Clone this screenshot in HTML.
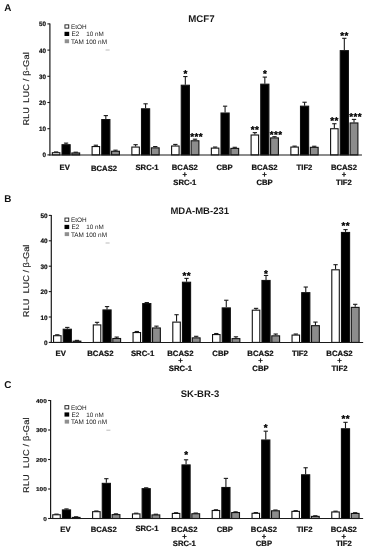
<!DOCTYPE html>
<html><head><meta charset="utf-8"><title>Figure</title>
<style>html,body{margin:0;padding:0;background:#fff;}svg{display:block;filter:blur(0.35px)}</style>
</head><body>
<svg width="365" height="550" viewBox="0 0 365 550" text-rendering="geometricPrecision" font-family='"Liberation Sans", Arial, sans-serif'>
<g>
<line x1="56.10" y1="151.94" x2="56.10" y2="152.15" stroke="#1a1a1a" stroke-width="1.1"/>
<line x1="53.95" y1="151.94" x2="58.25" y2="151.94" stroke="#1a1a1a" stroke-width="1.1"/>
<rect x="52.35" y="152.70" width="7.50" height="2.20" fill="#fff" stroke="#111" stroke-width="1.1"/>
<line x1="66.07" y1="143.11" x2="66.07" y2="144.16" stroke="#1a1a1a" stroke-width="1.1"/>
<line x1="63.92" y1="143.11" x2="68.22" y2="143.11" stroke="#1a1a1a" stroke-width="1.1"/>
<rect x="62.00" y="144.71" width="8.15" height="10.19" fill="#000" stroke="#111" stroke-width="1.1"/>
<line x1="75.75" y1="152.20" x2="75.75" y2="152.41" stroke="#1a1a1a" stroke-width="1.1"/>
<line x1="73.60" y1="152.20" x2="77.90" y2="152.20" stroke="#1a1a1a" stroke-width="1.1"/>
<rect x="71.85" y="152.96" width="7.80" height="1.94" fill="#8c8c8c" stroke="#111" stroke-width="1.1"/>
<line x1="95.85" y1="145.21" x2="95.85" y2="145.99" stroke="#1a1a1a" stroke-width="1.1"/>
<line x1="93.70" y1="145.21" x2="98.00" y2="145.21" stroke="#1a1a1a" stroke-width="1.1"/>
<rect x="92.10" y="146.54" width="7.50" height="8.36" fill="#fff" stroke="#111" stroke-width="1.1"/>
<line x1="105.82" y1="115.60" x2="105.82" y2="119.01" stroke="#1a1a1a" stroke-width="1.1"/>
<line x1="103.67" y1="115.60" x2="107.97" y2="115.60" stroke="#1a1a1a" stroke-width="1.1"/>
<rect x="101.75" y="119.56" width="8.15" height="35.34" fill="#000" stroke="#111" stroke-width="1.1"/>
<line x1="115.50" y1="150.18" x2="115.50" y2="150.71" stroke="#1a1a1a" stroke-width="1.1"/>
<line x1="113.35" y1="150.18" x2="117.65" y2="150.18" stroke="#1a1a1a" stroke-width="1.1"/>
<rect x="111.60" y="151.26" width="7.80" height="3.64" fill="#8c8c8c" stroke="#111" stroke-width="1.1"/>
<line x1="135.60" y1="144.68" x2="135.60" y2="146.52" stroke="#1a1a1a" stroke-width="1.1"/>
<line x1="133.45" y1="144.68" x2="137.75" y2="144.68" stroke="#1a1a1a" stroke-width="1.1"/>
<rect x="131.85" y="147.07" width="7.50" height="7.83" fill="#fff" stroke="#111" stroke-width="1.1"/>
<line x1="145.58" y1="103.81" x2="145.58" y2="108.26" stroke="#1a1a1a" stroke-width="1.1"/>
<line x1="143.43" y1="103.81" x2="147.73" y2="103.81" stroke="#1a1a1a" stroke-width="1.1"/>
<rect x="141.50" y="108.81" width="8.15" height="46.09" fill="#000" stroke="#111" stroke-width="1.1"/>
<line x1="155.25" y1="146.52" x2="155.25" y2="147.30" stroke="#1a1a1a" stroke-width="1.1"/>
<line x1="153.10" y1="146.52" x2="157.40" y2="146.52" stroke="#1a1a1a" stroke-width="1.1"/>
<rect x="151.35" y="147.85" width="7.80" height="7.05" fill="#8c8c8c" stroke="#111" stroke-width="1.1"/>
<line x1="175.35" y1="144.42" x2="175.35" y2="145.47" stroke="#1a1a1a" stroke-width="1.1"/>
<line x1="173.20" y1="144.42" x2="177.50" y2="144.42" stroke="#1a1a1a" stroke-width="1.1"/>
<rect x="171.60" y="146.02" width="7.50" height="8.88" fill="#fff" stroke="#111" stroke-width="1.1"/>
<line x1="185.33" y1="76.56" x2="185.33" y2="84.68" stroke="#1a1a1a" stroke-width="1.1"/>
<line x1="183.18" y1="76.56" x2="187.48" y2="76.56" stroke="#1a1a1a" stroke-width="1.1"/>
<rect x="181.25" y="85.23" width="8.15" height="69.67" fill="#000" stroke="#111" stroke-width="1.1"/>
<line x1="195.00" y1="139.18" x2="195.00" y2="140.23" stroke="#1a1a1a" stroke-width="1.1"/>
<line x1="192.85" y1="139.18" x2="197.15" y2="139.18" stroke="#1a1a1a" stroke-width="1.1"/>
<rect x="191.10" y="140.78" width="7.80" height="14.12" fill="#8c8c8c" stroke="#111" stroke-width="1.1"/>
<line x1="215.10" y1="147.04" x2="215.10" y2="147.56" stroke="#1a1a1a" stroke-width="1.1"/>
<line x1="212.95" y1="147.04" x2="217.25" y2="147.04" stroke="#1a1a1a" stroke-width="1.1"/>
<rect x="211.35" y="148.11" width="7.50" height="6.79" fill="#fff" stroke="#111" stroke-width="1.1"/>
<line x1="225.08" y1="106.17" x2="225.08" y2="112.46" stroke="#1a1a1a" stroke-width="1.1"/>
<line x1="222.93" y1="106.17" x2="227.23" y2="106.17" stroke="#1a1a1a" stroke-width="1.1"/>
<rect x="221.00" y="113.01" width="8.15" height="41.89" fill="#000" stroke="#111" stroke-width="1.1"/>
<line x1="234.75" y1="147.30" x2="234.75" y2="147.83" stroke="#1a1a1a" stroke-width="1.1"/>
<line x1="232.60" y1="147.30" x2="236.90" y2="147.30" stroke="#1a1a1a" stroke-width="1.1"/>
<rect x="230.85" y="148.38" width="7.80" height="6.52" fill="#8c8c8c" stroke="#111" stroke-width="1.1"/>
<line x1="254.85" y1="132.63" x2="254.85" y2="134.46" stroke="#1a1a1a" stroke-width="1.1"/>
<line x1="252.70" y1="132.63" x2="257.00" y2="132.63" stroke="#1a1a1a" stroke-width="1.1"/>
<rect x="251.10" y="135.01" width="7.50" height="19.89" fill="#fff" stroke="#111" stroke-width="1.1"/>
<line x1="264.82" y1="77.09" x2="264.82" y2="83.64" stroke="#1a1a1a" stroke-width="1.1"/>
<line x1="262.68" y1="77.09" x2="266.97" y2="77.09" stroke="#1a1a1a" stroke-width="1.1"/>
<rect x="260.75" y="84.19" width="8.15" height="70.71" fill="#000" stroke="#111" stroke-width="1.1"/>
<line x1="274.50" y1="136.69" x2="274.50" y2="137.35" stroke="#1a1a1a" stroke-width="1.1"/>
<line x1="272.35" y1="136.69" x2="276.65" y2="136.69" stroke="#1a1a1a" stroke-width="1.1"/>
<rect x="270.60" y="137.90" width="7.80" height="17.00" fill="#8c8c8c" stroke="#111" stroke-width="1.1"/>
<line x1="294.60" y1="146.12" x2="294.60" y2="146.52" stroke="#1a1a1a" stroke-width="1.1"/>
<line x1="292.45" y1="146.12" x2="296.75" y2="146.12" stroke="#1a1a1a" stroke-width="1.1"/>
<rect x="290.85" y="147.07" width="7.50" height="7.83" fill="#fff" stroke="#111" stroke-width="1.1"/>
<line x1="304.57" y1="102.24" x2="304.57" y2="105.64" stroke="#1a1a1a" stroke-width="1.1"/>
<line x1="302.43" y1="102.24" x2="306.72" y2="102.24" stroke="#1a1a1a" stroke-width="1.1"/>
<rect x="300.50" y="106.19" width="8.15" height="48.71" fill="#000" stroke="#111" stroke-width="1.1"/>
<line x1="314.25" y1="146.25" x2="314.25" y2="146.78" stroke="#1a1a1a" stroke-width="1.1"/>
<line x1="312.10" y1="146.25" x2="316.40" y2="146.25" stroke="#1a1a1a" stroke-width="1.1"/>
<rect x="310.35" y="147.33" width="7.80" height="7.57" fill="#8c8c8c" stroke="#111" stroke-width="1.1"/>
<line x1="334.35" y1="123.72" x2="334.35" y2="128.18" stroke="#1a1a1a" stroke-width="1.1"/>
<line x1="332.20" y1="123.72" x2="336.50" y2="123.72" stroke="#1a1a1a" stroke-width="1.1"/>
<rect x="330.60" y="128.73" width="7.50" height="26.17" fill="#fff" stroke="#111" stroke-width="1.1"/>
<line x1="344.32" y1="38.31" x2="344.32" y2="50.10" stroke="#1a1a1a" stroke-width="1.1"/>
<line x1="342.18" y1="38.31" x2="346.47" y2="38.31" stroke="#1a1a1a" stroke-width="1.1"/>
<rect x="340.25" y="50.65" width="8.15" height="104.25" fill="#000" stroke="#111" stroke-width="1.1"/>
<line x1="354.00" y1="119.40" x2="354.00" y2="122.41" stroke="#1a1a1a" stroke-width="1.1"/>
<line x1="351.85" y1="119.40" x2="356.15" y2="119.40" stroke="#1a1a1a" stroke-width="1.1"/>
<rect x="350.10" y="122.96" width="7.80" height="31.94" fill="#8c8c8c" stroke="#111" stroke-width="1.1"/>
<line x1="49.9" y1="23.40" x2="49.9" y2="155.50" stroke="#1a1a1a" stroke-width="1.2"/>
<line x1="49.4" y1="154.9" x2="361.95" y2="154.9" stroke="#1a1a1a" stroke-width="1.05"/>
<line x1="47.40" y1="154.90" x2="49.9" y2="154.90" stroke="#1a1a1a" stroke-width="1.1"/>
<text transform="translate(46.10,155.20) scale(1,1)" y="2.27" text-anchor="end" font-size="6.3" font-weight="bold" fill="#111" stroke="#111" stroke-width="0.2">0</text>
<line x1="47.40" y1="128.70" x2="49.9" y2="128.70" stroke="#1a1a1a" stroke-width="1.1"/>
<text transform="translate(46.10,129.00) scale(1,1)" y="2.27" text-anchor="end" font-size="6.3" font-weight="bold" fill="#111" stroke="#111" stroke-width="0.2">10</text>
<line x1="47.40" y1="102.50" x2="49.9" y2="102.50" stroke="#1a1a1a" stroke-width="1.1"/>
<text transform="translate(46.10,102.80) scale(1,1)" y="2.27" text-anchor="end" font-size="6.3" font-weight="bold" fill="#111" stroke="#111" stroke-width="0.2">20</text>
<line x1="47.40" y1="76.30" x2="49.9" y2="76.30" stroke="#1a1a1a" stroke-width="1.1"/>
<text transform="translate(46.10,76.60) scale(1,1)" y="2.27" text-anchor="end" font-size="6.3" font-weight="bold" fill="#111" stroke="#111" stroke-width="0.2">30</text>
<line x1="47.40" y1="50.10" x2="49.9" y2="50.10" stroke="#1a1a1a" stroke-width="1.1"/>
<text transform="translate(46.10,50.40) scale(1,1)" y="2.27" text-anchor="end" font-size="6.3" font-weight="bold" fill="#111" stroke="#111" stroke-width="0.2">40</text>
<line x1="47.40" y1="23.90" x2="49.9" y2="23.90" stroke="#1a1a1a" stroke-width="1.1"/>
<text transform="translate(46.10,24.20) scale(1,1)" y="2.27" text-anchor="end" font-size="6.3" font-weight="bold" fill="#111" stroke="#111" stroke-width="0.2">50</text>
<text x="185.58" y="76.80" text-anchor="middle" letter-spacing="0.5" font-size="9.8" font-weight="bold" fill="#000" stroke="#000" stroke-width="0.3">*</text>
<text x="196.65" y="139.80" text-anchor="middle" letter-spacing="0.5" font-size="9.8" font-weight="bold" fill="#000" stroke="#000" stroke-width="0.3">***</text>
<text x="255.10" y="132.60" text-anchor="middle" letter-spacing="0.5" font-size="9.8" font-weight="bold" fill="#000" stroke="#000" stroke-width="0.3">**</text>
<text x="265.07" y="77.40" text-anchor="middle" letter-spacing="0.5" font-size="9.8" font-weight="bold" fill="#000" stroke="#000" stroke-width="0.3">*</text>
<text x="276.15" y="137.85" text-anchor="middle" letter-spacing="0.5" font-size="9.8" font-weight="bold" fill="#000" stroke="#000" stroke-width="0.3">***</text>
<text x="334.60" y="124.20" text-anchor="middle" letter-spacing="0.5" font-size="9.8" font-weight="bold" fill="#000" stroke="#000" stroke-width="0.3">**</text>
<text x="344.57" y="39.40" text-anchor="middle" letter-spacing="0.5" font-size="9.8" font-weight="bold" fill="#000" stroke="#000" stroke-width="0.3">**</text>
<text x="355.65" y="120.30" text-anchor="middle" letter-spacing="0.5" font-size="9.8" font-weight="bold" fill="#000" stroke="#000" stroke-width="0.3">***</text>
<text x="201.4" y="22" text-anchor="middle" font-size="9.7" font-weight="bold" fill="#1a1a1a">MCF7</text>
<text x="4.3" y="11.1" font-size="9.9" font-weight="bold" fill="#111">A</text>
<rect x="64.95" y="24.85" width="3.8" height="3.3" fill="#fff" stroke="#1a1a1a" stroke-width="0.9"/>
<text x="70.90" y="29.00" font-size="6.4" fill="#1a1a1a">EtOH</text>
<rect x="64.50" y="31.80" width="4.7" height="4.2" fill="#000"/>
<text x="71.50" y="36.40" font-size="6.4" fill="#1a1a1a">E2</text>
<text x="86.30" y="36.40" font-size="6.3" fill="#1a1a1a">10 nM</text>
<rect x="64.70" y="39.30" width="4.4" height="3.9" fill="#8f8f8f"/>
<text x="70.90" y="43.80" font-size="6.4" fill="#1a1a1a">TAM 100 nM</text>
<line x1="105.6" y1="50" x2="109.6" y2="50" stroke="#aaa" stroke-width="0.8"/>
<g transform="translate(29.2,125.6) rotate(-90) scale(1,0.9)" font-size="9.3" fill="#222" stroke="#222" stroke-width="0.15">
<text x="0" y="0">RLU</text>
<text x="22.7" y="0" letter-spacing="0.15">LUC / β-Gal</text>
</g>
<text x="64.70" y="170.20" text-anchor="middle" font-size="7.7" font-weight="bold" fill="#111" stroke="#111" stroke-width="0.22">EV</text>
<text x="104.05" y="170.50" text-anchor="middle" font-size="7.7" font-weight="bold" fill="#111" stroke="#111" stroke-width="0.22">BCAS2</text>
<text x="147.00" y="169.60" text-anchor="middle" font-size="7.7" font-weight="bold" fill="#111" stroke="#111" stroke-width="0.22">SRC-1</text>
<text x="184.85" y="169.60" text-anchor="middle" font-size="7.7" font-weight="bold" fill="#111" stroke="#111" stroke-width="0.22">BCAS2</text>
<text x="184.85" y="177.10" text-anchor="middle" font-size="7.7" font-weight="bold" fill="#111" stroke="#111" stroke-width="0.22">+</text>
<text x="184.85" y="184.60" text-anchor="middle" font-size="7.7" font-weight="bold" fill="#111" stroke="#111" stroke-width="0.22">SRC-1</text>
<text x="224.60" y="169.60" text-anchor="middle" font-size="7.7" font-weight="bold" fill="#111" stroke="#111" stroke-width="0.22">CBP</text>
<text x="264.55" y="169.60" text-anchor="middle" font-size="7.7" font-weight="bold" fill="#111" stroke="#111" stroke-width="0.22">BCAS2</text>
<text x="264.55" y="177.10" text-anchor="middle" font-size="7.7" font-weight="bold" fill="#111" stroke="#111" stroke-width="0.22">+</text>
<text x="264.55" y="184.60" text-anchor="middle" font-size="7.7" font-weight="bold" fill="#111" stroke="#111" stroke-width="0.22">CBP</text>
<text x="304.50" y="169.60" text-anchor="middle" font-size="7.7" font-weight="bold" fill="#111" stroke="#111" stroke-width="0.22">TIF2</text>
<text x="343.95" y="169.60" text-anchor="middle" font-size="7.7" font-weight="bold" fill="#111" stroke="#111" stroke-width="0.22">BCAS2</text>
<text x="343.95" y="177.10" text-anchor="middle" font-size="7.7" font-weight="bold" fill="#111" stroke="#111" stroke-width="0.22">+</text>
<text x="343.95" y="184.60" text-anchor="middle" font-size="7.7" font-weight="bold" fill="#111" stroke="#111" stroke-width="0.22">TIF2</text>
</g>
<g>
<line x1="57.30" y1="334.78" x2="57.30" y2="335.16" stroke="#1a1a1a" stroke-width="1.1"/>
<line x1="55.15" y1="334.78" x2="59.45" y2="334.78" stroke="#1a1a1a" stroke-width="1.1"/>
<rect x="53.55" y="335.71" width="7.50" height="6.69" fill="#fff" stroke="#111" stroke-width="1.1"/>
<line x1="67.28" y1="327.41" x2="67.28" y2="328.68" stroke="#1a1a1a" stroke-width="1.1"/>
<line x1="65.12" y1="327.41" x2="69.43" y2="327.41" stroke="#1a1a1a" stroke-width="1.1"/>
<rect x="63.20" y="329.23" width="8.15" height="13.17" fill="#000" stroke="#111" stroke-width="1.1"/>
<line x1="76.95" y1="340.37" x2="76.95" y2="340.62" stroke="#1a1a1a" stroke-width="1.1"/>
<line x1="74.80" y1="340.37" x2="79.10" y2="340.37" stroke="#1a1a1a" stroke-width="1.1"/>
<rect x="73.05" y="341.17" width="7.80" height="1.23" fill="#8c8c8c" stroke="#111" stroke-width="1.1"/>
<line x1="97.05" y1="322.33" x2="97.05" y2="324.37" stroke="#1a1a1a" stroke-width="1.1"/>
<line x1="94.90" y1="322.33" x2="99.20" y2="322.33" stroke="#1a1a1a" stroke-width="1.1"/>
<rect x="93.30" y="324.92" width="7.50" height="17.48" fill="#fff" stroke="#111" stroke-width="1.1"/>
<line x1="107.03" y1="306.59" x2="107.03" y2="309.38" stroke="#1a1a1a" stroke-width="1.1"/>
<line x1="104.88" y1="306.59" x2="109.18" y2="306.59" stroke="#1a1a1a" stroke-width="1.1"/>
<rect x="102.95" y="309.93" width="8.15" height="32.47" fill="#000" stroke="#111" stroke-width="1.1"/>
<line x1="116.70" y1="337.07" x2="116.70" y2="337.95" stroke="#1a1a1a" stroke-width="1.1"/>
<line x1="114.55" y1="337.07" x2="118.85" y2="337.07" stroke="#1a1a1a" stroke-width="1.1"/>
<rect x="112.80" y="338.50" width="7.80" height="3.89" fill="#8c8c8c" stroke="#111" stroke-width="1.1"/>
<line x1="136.80" y1="331.48" x2="136.80" y2="331.99" stroke="#1a1a1a" stroke-width="1.1"/>
<line x1="134.65" y1="331.48" x2="138.95" y2="331.48" stroke="#1a1a1a" stroke-width="1.1"/>
<rect x="133.05" y="332.54" width="7.50" height="9.86" fill="#fff" stroke="#111" stroke-width="1.1"/>
<line x1="146.78" y1="302.52" x2="146.78" y2="303.03" stroke="#1a1a1a" stroke-width="1.1"/>
<line x1="144.62" y1="302.52" x2="148.93" y2="302.52" stroke="#1a1a1a" stroke-width="1.1"/>
<rect x="142.70" y="303.58" width="8.15" height="38.82" fill="#000" stroke="#111" stroke-width="1.1"/>
<line x1="156.45" y1="326.14" x2="156.45" y2="327.41" stroke="#1a1a1a" stroke-width="1.1"/>
<line x1="154.30" y1="326.14" x2="158.60" y2="326.14" stroke="#1a1a1a" stroke-width="1.1"/>
<rect x="152.55" y="327.96" width="7.80" height="14.44" fill="#8c8c8c" stroke="#111" stroke-width="1.1"/>
<line x1="176.55" y1="314.71" x2="176.55" y2="321.57" stroke="#1a1a1a" stroke-width="1.1"/>
<line x1="174.40" y1="314.71" x2="178.70" y2="314.71" stroke="#1a1a1a" stroke-width="1.1"/>
<rect x="172.80" y="322.12" width="7.50" height="20.28" fill="#fff" stroke="#111" stroke-width="1.1"/>
<line x1="186.53" y1="278.39" x2="186.53" y2="281.69" stroke="#1a1a1a" stroke-width="1.1"/>
<line x1="184.38" y1="278.39" x2="188.68" y2="278.39" stroke="#1a1a1a" stroke-width="1.1"/>
<rect x="182.45" y="282.24" width="8.15" height="60.16" fill="#000" stroke="#111" stroke-width="1.1"/>
<line x1="196.20" y1="336.30" x2="196.20" y2="337.32" stroke="#1a1a1a" stroke-width="1.1"/>
<line x1="194.05" y1="336.30" x2="198.35" y2="336.30" stroke="#1a1a1a" stroke-width="1.1"/>
<rect x="192.30" y="337.87" width="7.80" height="4.53" fill="#8c8c8c" stroke="#111" stroke-width="1.1"/>
<line x1="216.30" y1="333.51" x2="216.30" y2="334.02" stroke="#1a1a1a" stroke-width="1.1"/>
<line x1="214.15" y1="333.51" x2="218.45" y2="333.51" stroke="#1a1a1a" stroke-width="1.1"/>
<rect x="212.55" y="334.57" width="7.50" height="7.83" fill="#fff" stroke="#111" stroke-width="1.1"/>
<line x1="226.28" y1="300.24" x2="226.28" y2="307.35" stroke="#1a1a1a" stroke-width="1.1"/>
<line x1="224.12" y1="300.24" x2="228.43" y2="300.24" stroke="#1a1a1a" stroke-width="1.1"/>
<rect x="222.20" y="307.90" width="8.15" height="34.50" fill="#000" stroke="#111" stroke-width="1.1"/>
<line x1="235.95" y1="336.81" x2="235.95" y2="338.08" stroke="#1a1a1a" stroke-width="1.1"/>
<line x1="233.80" y1="336.81" x2="238.10" y2="336.81" stroke="#1a1a1a" stroke-width="1.1"/>
<rect x="232.05" y="338.63" width="7.80" height="3.77" fill="#8c8c8c" stroke="#111" stroke-width="1.1"/>
<line x1="256.05" y1="308.36" x2="256.05" y2="309.63" stroke="#1a1a1a" stroke-width="1.1"/>
<line x1="253.90" y1="308.36" x2="258.20" y2="308.36" stroke="#1a1a1a" stroke-width="1.1"/>
<rect x="252.30" y="310.18" width="7.50" height="32.22" fill="#fff" stroke="#111" stroke-width="1.1"/>
<line x1="266.02" y1="275.47" x2="266.02" y2="279.92" stroke="#1a1a1a" stroke-width="1.1"/>
<line x1="263.88" y1="275.47" x2="268.17" y2="275.47" stroke="#1a1a1a" stroke-width="1.1"/>
<rect x="261.95" y="280.47" width="8.15" height="61.93" fill="#000" stroke="#111" stroke-width="1.1"/>
<line x1="275.70" y1="334.02" x2="275.70" y2="335.29" stroke="#1a1a1a" stroke-width="1.1"/>
<line x1="273.55" y1="334.02" x2="277.85" y2="334.02" stroke="#1a1a1a" stroke-width="1.1"/>
<rect x="271.80" y="335.84" width="7.80" height="6.56" fill="#8c8c8c" stroke="#111" stroke-width="1.1"/>
<line x1="295.80" y1="334.02" x2="295.80" y2="334.53" stroke="#1a1a1a" stroke-width="1.1"/>
<line x1="293.65" y1="334.02" x2="297.95" y2="334.02" stroke="#1a1a1a" stroke-width="1.1"/>
<rect x="292.05" y="335.08" width="7.50" height="7.32" fill="#fff" stroke="#111" stroke-width="1.1"/>
<line x1="305.77" y1="287.03" x2="305.77" y2="292.11" stroke="#1a1a1a" stroke-width="1.1"/>
<line x1="303.62" y1="287.03" x2="307.92" y2="287.03" stroke="#1a1a1a" stroke-width="1.1"/>
<rect x="301.70" y="292.66" width="8.15" height="49.74" fill="#000" stroke="#111" stroke-width="1.1"/>
<line x1="315.45" y1="322.08" x2="315.45" y2="325.13" stroke="#1a1a1a" stroke-width="1.1"/>
<line x1="313.30" y1="322.08" x2="317.60" y2="322.08" stroke="#1a1a1a" stroke-width="1.1"/>
<rect x="311.55" y="325.68" width="7.80" height="16.72" fill="#8c8c8c" stroke="#111" stroke-width="1.1"/>
<line x1="335.55" y1="264.68" x2="335.55" y2="269.25" stroke="#1a1a1a" stroke-width="1.1"/>
<line x1="333.40" y1="264.68" x2="337.70" y2="264.68" stroke="#1a1a1a" stroke-width="1.1"/>
<rect x="331.80" y="269.80" width="7.50" height="72.60" fill="#fff" stroke="#111" stroke-width="1.1"/>
<line x1="345.52" y1="229.62" x2="345.52" y2="231.91" stroke="#1a1a1a" stroke-width="1.1"/>
<line x1="343.38" y1="229.62" x2="347.67" y2="229.62" stroke="#1a1a1a" stroke-width="1.1"/>
<rect x="341.45" y="232.46" width="8.15" height="109.94" fill="#000" stroke="#111" stroke-width="1.1"/>
<line x1="355.20" y1="304.30" x2="355.20" y2="306.84" stroke="#1a1a1a" stroke-width="1.1"/>
<line x1="353.05" y1="304.30" x2="357.35" y2="304.30" stroke="#1a1a1a" stroke-width="1.1"/>
<rect x="351.30" y="307.39" width="7.80" height="35.01" fill="#8c8c8c" stroke="#111" stroke-width="1.1"/>
<line x1="51.3" y1="214.90" x2="51.3" y2="343.00" stroke="#1a1a1a" stroke-width="1.2"/>
<line x1="50.8" y1="342.4" x2="363.15" y2="342.4" stroke="#1a1a1a" stroke-width="1.05"/>
<line x1="48.80" y1="342.40" x2="51.3" y2="342.40" stroke="#1a1a1a" stroke-width="1.1"/>
<text transform="translate(47.50,342.70) scale(1,1)" y="2.30" text-anchor="end" font-size="6.4" font-weight="bold" fill="#111" stroke="#111" stroke-width="0.2">0</text>
<line x1="48.80" y1="317.00" x2="51.3" y2="317.00" stroke="#1a1a1a" stroke-width="1.1"/>
<text transform="translate(47.50,317.30) scale(1,1)" y="2.30" text-anchor="end" font-size="6.4" font-weight="bold" fill="#111" stroke="#111" stroke-width="0.2">10</text>
<line x1="48.80" y1="291.60" x2="51.3" y2="291.60" stroke="#1a1a1a" stroke-width="1.1"/>
<text transform="translate(47.50,291.90) scale(1,1)" y="2.30" text-anchor="end" font-size="6.4" font-weight="bold" fill="#111" stroke="#111" stroke-width="0.2">20</text>
<line x1="48.80" y1="266.20" x2="51.3" y2="266.20" stroke="#1a1a1a" stroke-width="1.1"/>
<text transform="translate(47.50,266.50) scale(1,1)" y="2.30" text-anchor="end" font-size="6.4" font-weight="bold" fill="#111" stroke="#111" stroke-width="0.2">30</text>
<line x1="48.80" y1="240.80" x2="51.3" y2="240.80" stroke="#1a1a1a" stroke-width="1.1"/>
<text transform="translate(47.50,241.10) scale(1,1)" y="2.30" text-anchor="end" font-size="6.4" font-weight="bold" fill="#111" stroke="#111" stroke-width="0.2">40</text>
<line x1="48.80" y1="215.40" x2="51.3" y2="215.40" stroke="#1a1a1a" stroke-width="1.1"/>
<text transform="translate(47.50,215.70) scale(1,1)" y="2.30" text-anchor="end" font-size="6.4" font-weight="bold" fill="#111" stroke="#111" stroke-width="0.2">50</text>
<text x="186.78" y="278.90" text-anchor="middle" letter-spacing="0.5" font-size="9.8" font-weight="bold" fill="#000" stroke="#000" stroke-width="0.3">**</text>
<text x="266.27" y="276.90" text-anchor="middle" letter-spacing="0.5" font-size="9.8" font-weight="bold" fill="#000" stroke="#000" stroke-width="0.3">*</text>
<text x="345.77" y="228.90" text-anchor="middle" letter-spacing="0.5" font-size="9.8" font-weight="bold" fill="#000" stroke="#000" stroke-width="0.3">**</text>
<text x="199.7" y="214.1" text-anchor="middle" font-size="9.5" font-weight="bold" fill="#1a1a1a">MDA-MB-231</text>
<text x="4.3" y="201.7" font-size="9.9" font-weight="bold" fill="#111">B</text>
<rect x="64.95" y="218.05" width="3.8" height="3.3" fill="#fff" stroke="#1a1a1a" stroke-width="0.9"/>
<text x="70.90" y="222.20" font-size="6.4" fill="#1a1a1a">EtOH</text>
<rect x="64.50" y="224.85" width="4.7" height="4.2" fill="#000"/>
<text x="71.50" y="229.45" font-size="6.4" fill="#1a1a1a">E2</text>
<text x="86.30" y="229.45" font-size="6.3" fill="#1a1a1a">10 nM</text>
<rect x="64.70" y="232.20" width="4.4" height="3.9" fill="#8f8f8f"/>
<text x="70.90" y="236.70" font-size="6.4" fill="#1a1a1a">TAM 100 nM</text>
<line x1="105.6" y1="243" x2="109.6" y2="243" stroke="#aaa" stroke-width="0.8"/>
<g transform="translate(29.2,317.2) rotate(-90) scale(1,0.9)" font-size="9.3" fill="#222" stroke="#222" stroke-width="0.15">
<text x="0" y="0">RLU</text>
<text x="23.7" y="0" letter-spacing="-0.04">LUC / β-Gal</text>
</g>
<text x="60.70" y="355.80" text-anchor="middle" font-size="7.75" font-weight="bold" fill="#111" stroke="#111" stroke-width="0.22">EV</text>
<text x="100.40" y="356.30" text-anchor="middle" font-size="7.75" font-weight="bold" fill="#111" stroke="#111" stroke-width="0.22">BCAS2</text>
<text x="142.60" y="355.50" text-anchor="middle" font-size="7.75" font-weight="bold" fill="#111" stroke="#111" stroke-width="0.22">SRC-1</text>
<text x="180.40" y="355.80" text-anchor="middle" font-size="7.75" font-weight="bold" fill="#111" stroke="#111" stroke-width="0.22">BCAS2</text>
<text x="180.40" y="363.20" text-anchor="middle" font-size="7.75" font-weight="bold" fill="#111" stroke="#111" stroke-width="0.22">+</text>
<text x="180.40" y="370.60" text-anchor="middle" font-size="7.75" font-weight="bold" fill="#111" stroke="#111" stroke-width="0.22">SRC-1</text>
<text x="220.50" y="355.80" text-anchor="middle" font-size="7.75" font-weight="bold" fill="#111" stroke="#111" stroke-width="0.22">CBP</text>
<text x="260.50" y="355.80" text-anchor="middle" font-size="7.75" font-weight="bold" fill="#111" stroke="#111" stroke-width="0.22">BCAS2</text>
<text x="260.50" y="363.20" text-anchor="middle" font-size="7.75" font-weight="bold" fill="#111" stroke="#111" stroke-width="0.22">+</text>
<text x="260.50" y="370.60" text-anchor="middle" font-size="7.75" font-weight="bold" fill="#111" stroke="#111" stroke-width="0.22">CBP</text>
<text x="299.90" y="355.80" text-anchor="middle" font-size="7.75" font-weight="bold" fill="#111" stroke="#111" stroke-width="0.22">TIF2</text>
<text x="339.50" y="355.80" text-anchor="middle" font-size="7.75" font-weight="bold" fill="#111" stroke="#111" stroke-width="0.22">BCAS2</text>
<text x="339.50" y="363.20" text-anchor="middle" font-size="7.75" font-weight="bold" fill="#111" stroke="#111" stroke-width="0.22">+</text>
<text x="339.50" y="370.60" text-anchor="middle" font-size="7.75" font-weight="bold" fill="#111" stroke="#111" stroke-width="0.22">TIF2</text>
</g>
<g>
<line x1="56.50" y1="514.13" x2="56.50" y2="514.22" stroke="#1a1a1a" stroke-width="1.1"/>
<line x1="54.35" y1="514.13" x2="58.65" y2="514.13" stroke="#1a1a1a" stroke-width="1.1"/>
<rect x="52.75" y="514.77" width="7.50" height="3.73" fill="#fff" stroke="#111" stroke-width="1.1"/>
<line x1="66.47" y1="508.91" x2="66.47" y2="509.36" stroke="#1a1a1a" stroke-width="1.1"/>
<line x1="64.32" y1="508.91" x2="68.62" y2="508.91" stroke="#1a1a1a" stroke-width="1.1"/>
<rect x="62.40" y="509.91" width="8.15" height="8.59" fill="#000" stroke="#111" stroke-width="1.1"/>
<line x1="76.15" y1="516.79" x2="76.15" y2="516.88" stroke="#1a1a1a" stroke-width="1.1"/>
<line x1="74.00" y1="516.79" x2="78.30" y2="516.79" stroke="#1a1a1a" stroke-width="1.1"/>
<rect x="72.25" y="517.43" width="7.80" height="1.07" fill="#8c8c8c" stroke="#111" stroke-width="1.1"/>
<line x1="96.36" y1="510.98" x2="96.36" y2="511.12" stroke="#1a1a1a" stroke-width="1.1"/>
<line x1="94.21" y1="510.98" x2="98.51" y2="510.98" stroke="#1a1a1a" stroke-width="1.1"/>
<rect x="92.61" y="511.68" width="7.50" height="6.83" fill="#fff" stroke="#111" stroke-width="1.1"/>
<line x1="106.34" y1="478.68" x2="106.34" y2="482.81" stroke="#1a1a1a" stroke-width="1.1"/>
<line x1="104.19" y1="478.68" x2="108.49" y2="478.68" stroke="#1a1a1a" stroke-width="1.1"/>
<rect x="102.26" y="483.36" width="8.15" height="35.14" fill="#000" stroke="#111" stroke-width="1.1"/>
<line x1="116.01" y1="513.84" x2="116.01" y2="514.08" stroke="#1a1a1a" stroke-width="1.1"/>
<line x1="113.86" y1="513.84" x2="118.16" y2="513.84" stroke="#1a1a1a" stroke-width="1.1"/>
<rect x="112.11" y="514.62" width="7.80" height="3.87" fill="#8c8c8c" stroke="#111" stroke-width="1.1"/>
<line x1="136.22" y1="513.19" x2="136.22" y2="513.34" stroke="#1a1a1a" stroke-width="1.1"/>
<line x1="134.07" y1="513.19" x2="138.37" y2="513.19" stroke="#1a1a1a" stroke-width="1.1"/>
<rect x="132.47" y="513.89" width="7.50" height="4.61" fill="#fff" stroke="#111" stroke-width="1.1"/>
<line x1="146.20" y1="487.82" x2="146.20" y2="488.12" stroke="#1a1a1a" stroke-width="1.1"/>
<line x1="144.05" y1="487.82" x2="148.35" y2="487.82" stroke="#1a1a1a" stroke-width="1.1"/>
<rect x="142.12" y="488.67" width="8.15" height="29.83" fill="#000" stroke="#111" stroke-width="1.1"/>
<line x1="155.87" y1="514.22" x2="155.87" y2="514.37" stroke="#1a1a1a" stroke-width="1.1"/>
<line x1="153.72" y1="514.22" x2="158.02" y2="514.22" stroke="#1a1a1a" stroke-width="1.1"/>
<rect x="151.97" y="514.92" width="7.80" height="3.58" fill="#8c8c8c" stroke="#111" stroke-width="1.1"/>
<line x1="176.08" y1="512.75" x2="176.08" y2="512.89" stroke="#1a1a1a" stroke-width="1.1"/>
<line x1="173.93" y1="512.75" x2="178.23" y2="512.75" stroke="#1a1a1a" stroke-width="1.1"/>
<rect x="172.33" y="513.44" width="7.50" height="5.06" fill="#fff" stroke="#111" stroke-width="1.1"/>
<line x1="186.06" y1="459.80" x2="186.06" y2="464.37" stroke="#1a1a1a" stroke-width="1.1"/>
<line x1="183.91" y1="459.80" x2="188.21" y2="459.80" stroke="#1a1a1a" stroke-width="1.1"/>
<rect x="181.98" y="464.92" width="8.15" height="53.58" fill="#000" stroke="#111" stroke-width="1.1"/>
<line x1="195.73" y1="513.04" x2="195.73" y2="513.19" stroke="#1a1a1a" stroke-width="1.1"/>
<line x1="193.58" y1="513.04" x2="197.88" y2="513.04" stroke="#1a1a1a" stroke-width="1.1"/>
<rect x="191.83" y="513.74" width="7.80" height="4.76" fill="#8c8c8c" stroke="#111" stroke-width="1.1"/>
<line x1="215.94" y1="509.77" x2="215.94" y2="509.94" stroke="#1a1a1a" stroke-width="1.1"/>
<line x1="213.79" y1="509.77" x2="218.09" y2="509.77" stroke="#1a1a1a" stroke-width="1.1"/>
<rect x="212.19" y="510.50" width="7.50" height="8.01" fill="#fff" stroke="#111" stroke-width="1.1"/>
<line x1="225.91" y1="478.38" x2="225.91" y2="486.94" stroke="#1a1a1a" stroke-width="1.1"/>
<line x1="223.76" y1="478.38" x2="228.06" y2="478.38" stroke="#1a1a1a" stroke-width="1.1"/>
<rect x="221.84" y="487.49" width="8.15" height="31.01" fill="#000" stroke="#111" stroke-width="1.1"/>
<line x1="235.59" y1="511.83" x2="235.59" y2="512.01" stroke="#1a1a1a" stroke-width="1.1"/>
<line x1="233.44" y1="511.83" x2="237.74" y2="511.83" stroke="#1a1a1a" stroke-width="1.1"/>
<rect x="231.69" y="512.56" width="7.80" height="5.94" fill="#8c8c8c" stroke="#111" stroke-width="1.1"/>
<line x1="255.80" y1="512.60" x2="255.80" y2="512.75" stroke="#1a1a1a" stroke-width="1.1"/>
<line x1="253.65" y1="512.60" x2="257.95" y2="512.60" stroke="#1a1a1a" stroke-width="1.1"/>
<rect x="252.05" y="513.30" width="7.50" height="5.20" fill="#fff" stroke="#111" stroke-width="1.1"/>
<line x1="265.77" y1="431.18" x2="265.77" y2="439.44" stroke="#1a1a1a" stroke-width="1.1"/>
<line x1="263.62" y1="431.18" x2="267.92" y2="431.18" stroke="#1a1a1a" stroke-width="1.1"/>
<rect x="261.70" y="439.99" width="8.15" height="78.51" fill="#000" stroke="#111" stroke-width="1.1"/>
<line x1="275.45" y1="510.00" x2="275.45" y2="510.24" stroke="#1a1a1a" stroke-width="1.1"/>
<line x1="273.30" y1="510.00" x2="277.60" y2="510.00" stroke="#1a1a1a" stroke-width="1.1"/>
<rect x="271.55" y="510.79" width="7.80" height="7.71" fill="#8c8c8c" stroke="#111" stroke-width="1.1"/>
<line x1="295.66" y1="510.65" x2="295.66" y2="510.83" stroke="#1a1a1a" stroke-width="1.1"/>
<line x1="293.51" y1="510.65" x2="297.81" y2="510.65" stroke="#1a1a1a" stroke-width="1.1"/>
<rect x="291.91" y="511.38" width="7.50" height="7.12" fill="#fff" stroke="#111" stroke-width="1.1"/>
<line x1="305.63" y1="467.76" x2="305.63" y2="474.25" stroke="#1a1a1a" stroke-width="1.1"/>
<line x1="303.49" y1="467.76" x2="307.78" y2="467.76" stroke="#1a1a1a" stroke-width="1.1"/>
<rect x="301.56" y="474.80" width="8.15" height="43.70" fill="#000" stroke="#111" stroke-width="1.1"/>
<line x1="315.31" y1="515.76" x2="315.31" y2="515.85" stroke="#1a1a1a" stroke-width="1.1"/>
<line x1="313.16" y1="515.76" x2="317.46" y2="515.76" stroke="#1a1a1a" stroke-width="1.1"/>
<rect x="311.41" y="516.39" width="7.80" height="2.10" fill="#8c8c8c" stroke="#111" stroke-width="1.1"/>
<line x1="335.52" y1="511.18" x2="335.52" y2="511.42" stroke="#1a1a1a" stroke-width="1.1"/>
<line x1="333.37" y1="511.18" x2="337.67" y2="511.18" stroke="#1a1a1a" stroke-width="1.1"/>
<rect x="331.77" y="511.97" width="7.50" height="6.53" fill="#fff" stroke="#111" stroke-width="1.1"/>
<line x1="345.49" y1="422.33" x2="345.49" y2="428.23" stroke="#1a1a1a" stroke-width="1.1"/>
<line x1="343.34" y1="422.33" x2="347.64" y2="422.33" stroke="#1a1a1a" stroke-width="1.1"/>
<rect x="341.42" y="428.78" width="8.15" height="89.72" fill="#000" stroke="#111" stroke-width="1.1"/>
<line x1="355.17" y1="512.72" x2="355.17" y2="512.89" stroke="#1a1a1a" stroke-width="1.1"/>
<line x1="353.02" y1="512.72" x2="357.32" y2="512.72" stroke="#1a1a1a" stroke-width="1.1"/>
<rect x="351.27" y="513.44" width="7.80" height="5.06" fill="#8c8c8c" stroke="#111" stroke-width="1.1"/>
<line x1="50.6" y1="400.00" x2="50.6" y2="519.10" stroke="#1a1a1a" stroke-width="1.2"/>
<line x1="50.1" y1="518.5" x2="363.12" y2="518.5" stroke="#1a1a1a" stroke-width="1.05"/>
<line x1="48.10" y1="518.50" x2="50.6" y2="518.50" stroke="#1a1a1a" stroke-width="1.1"/>
<text transform="translate(46.80,518.80) scale(1,0.85)" y="2.34" text-anchor="end" font-size="6.5" font-weight="bold" fill="#111" stroke="#111" stroke-width="0.2">0</text>
<line x1="48.10" y1="489.00" x2="50.6" y2="489.00" stroke="#1a1a1a" stroke-width="1.1"/>
<text transform="translate(46.80,489.30) scale(1,0.85)" y="2.34" text-anchor="end" font-size="6.5" font-weight="bold" fill="#111" stroke="#111" stroke-width="0.2">100</text>
<line x1="48.10" y1="459.50" x2="50.6" y2="459.50" stroke="#1a1a1a" stroke-width="1.1"/>
<text transform="translate(46.80,459.80) scale(1,0.85)" y="2.34" text-anchor="end" font-size="6.5" font-weight="bold" fill="#111" stroke="#111" stroke-width="0.2">200</text>
<line x1="48.10" y1="430.00" x2="50.6" y2="430.00" stroke="#1a1a1a" stroke-width="1.1"/>
<text transform="translate(46.80,430.30) scale(1,0.85)" y="2.34" text-anchor="end" font-size="6.5" font-weight="bold" fill="#111" stroke="#111" stroke-width="0.2">300</text>
<line x1="48.10" y1="400.50" x2="50.6" y2="400.50" stroke="#1a1a1a" stroke-width="1.1"/>
<text transform="translate(46.80,400.80) scale(1,0.85)" y="2.34" text-anchor="end" font-size="6.5" font-weight="bold" fill="#111" stroke="#111" stroke-width="0.2">400</text>
<text x="186.31" y="457.80" text-anchor="middle" letter-spacing="0.5" font-size="9.8" font-weight="bold" fill="#000" stroke="#000" stroke-width="0.3">*</text>
<text x="266.02" y="430.60" text-anchor="middle" letter-spacing="0.5" font-size="9.8" font-weight="bold" fill="#000" stroke="#000" stroke-width="0.3">*</text>
<text x="345.74" y="422.00" text-anchor="middle" letter-spacing="0.5" font-size="9.8" font-weight="bold" fill="#000" stroke="#000" stroke-width="0.3">**</text>
<text x="200" y="397.4" text-anchor="middle" font-size="9.5" font-weight="bold" fill="#1a1a1a">SK-BR-3</text>
<text x="4.2" y="387.8" font-size="9.9" font-weight="bold" fill="#111">C</text>
<rect x="64.95" y="405.65" width="3.8" height="3.3" fill="#fff" stroke="#1a1a1a" stroke-width="0.9"/>
<text x="70.90" y="409.80" font-size="6.4" fill="#1a1a1a">EtOH</text>
<rect x="64.50" y="412.40" width="4.7" height="4.2" fill="#000"/>
<text x="71.50" y="417.00" font-size="6.4" fill="#1a1a1a">E2</text>
<text x="86.30" y="417.00" font-size="6.3" fill="#1a1a1a">10 nM</text>
<rect x="64.70" y="419.70" width="4.4" height="3.9" fill="#8f8f8f"/>
<text x="70.90" y="424.20" font-size="6.4" fill="#1a1a1a">TAM 100 nM</text>
<line x1="106.4" y1="430.2" x2="110.4" y2="430.2" stroke="#aaa" stroke-width="0.8"/>
<g transform="translate(29.2,492.9) rotate(-90) scale(1,0.9)" font-size="9.3" fill="#222" stroke="#222" stroke-width="0.15">
<text x="0" y="0">RLU</text>
<text x="24.7" y="0" letter-spacing="0.15">LUC / β-Gal</text>
</g>
<text x="65.40" y="531.50" text-anchor="middle" font-size="7.7" font-weight="bold" fill="#111" stroke="#111" stroke-width="0.22">EV</text>
<text x="103.76" y="532.10" text-anchor="middle" font-size="7.7" font-weight="bold" fill="#111" stroke="#111" stroke-width="0.22">BCAS2</text>
<text x="146.92" y="531.20" text-anchor="middle" font-size="7.7" font-weight="bold" fill="#111" stroke="#111" stroke-width="0.22">SRC-1</text>
<text x="184.38" y="531.50" text-anchor="middle" font-size="7.7" font-weight="bold" fill="#111" stroke="#111" stroke-width="0.22">BCAS2</text>
<text x="184.38" y="538.50" text-anchor="middle" font-size="7.7" font-weight="bold" fill="#111" stroke="#111" stroke-width="0.22">+</text>
<text x="184.38" y="545.50" text-anchor="middle" font-size="7.7" font-weight="bold" fill="#111" stroke="#111" stroke-width="0.22">SRC-1</text>
<text x="224.84" y="531.50" text-anchor="middle" font-size="7.7" font-weight="bold" fill="#111" stroke="#111" stroke-width="0.22">CBP</text>
<text x="263.90" y="531.50" text-anchor="middle" font-size="7.7" font-weight="bold" fill="#111" stroke="#111" stroke-width="0.22">BCAS2</text>
<text x="263.90" y="538.50" text-anchor="middle" font-size="7.7" font-weight="bold" fill="#111" stroke="#111" stroke-width="0.22">+</text>
<text x="263.90" y="545.50" text-anchor="middle" font-size="7.7" font-weight="bold" fill="#111" stroke="#111" stroke-width="0.22">CBP</text>
<text x="304.56" y="531.50" text-anchor="middle" font-size="7.7" font-weight="bold" fill="#111" stroke="#111" stroke-width="0.22">TIF2</text>
<text x="343.82" y="531.50" text-anchor="middle" font-size="7.7" font-weight="bold" fill="#111" stroke="#111" stroke-width="0.22">BCAS2</text>
<text x="343.82" y="538.50" text-anchor="middle" font-size="7.7" font-weight="bold" fill="#111" stroke="#111" stroke-width="0.22">+</text>
<text x="343.82" y="545.50" text-anchor="middle" font-size="7.7" font-weight="bold" fill="#111" stroke="#111" stroke-width="0.22">TIF2</text>
</g>
</svg>
</body></html>
